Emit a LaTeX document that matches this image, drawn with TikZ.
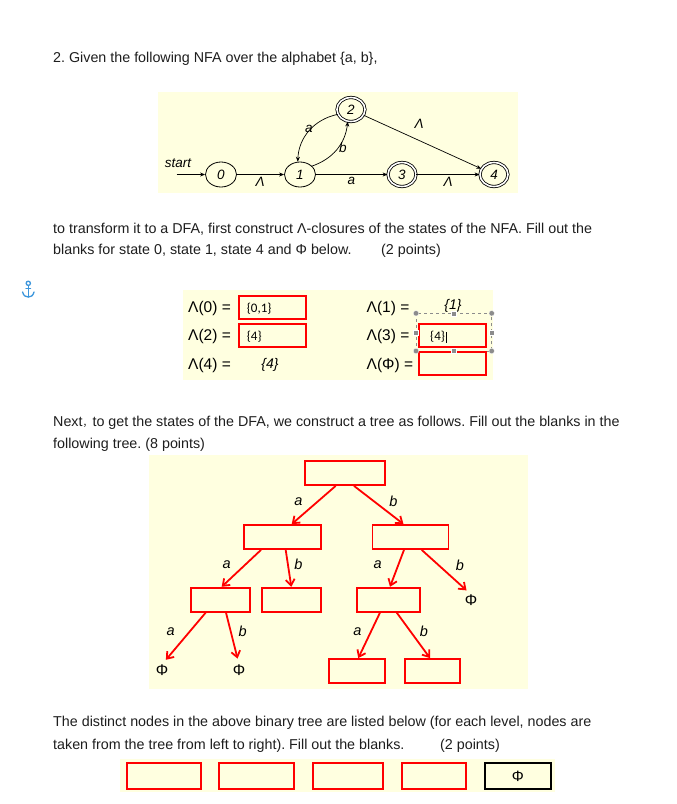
\documentclass[tikz,border=0pt]{standalone}
\usepackage{fontspec}
\setmainfont{Liberation Sans}
\newfontfamily\cjkfont{Noto Sans CJK SC}
\newfontfamily\carlfont{Carlito}
\usetikzlibrary{arrows.meta,shapes.geometric}
\definecolor{bgy}{RGB}{255,255,224}
\definecolor{txtc}{RGB}{30,30,30}
\definecolor{redc}{RGB}{255,0,0}
\definecolor{anchc}{RGB}{60,150,220}
\definecolor{hdlc}{RGB}{140,140,140}
\frenchspacing
\begin{document}
\begin{tikzpicture}[x=1pt,y=-1pt,
 body/.style={anchor=base west,inner sep=0,font=\fontsize{14.3}{17}\selectfont,text=txtc},
 st/.style={ellipse,draw,line width=0.8pt,minimum width=31pt,minimum height=25pt,inner sep=0,font=\fontsize{13.5}{15}\selectfont\itshape},
 acc/.style={st,double,double distance=1.6pt,minimum width=28pt,minimum height=24pt},
 lbl/.style={inner sep=0,font=\fontsize{13.5}{15}\selectfont\itshape},
 nfa/.style={-{Stealth[length=5pt,width=4pt]},line width=0.7pt},
 eqn/.style={anchor=west,inner sep=0,font=\fontsize{15.5}{18}\selectfont},
 rbox/.style={draw=redc,line width=1.8pt,inner sep=0},
 tl/.style={inner sep=0,font=\fontsize{14.5}{16}\selectfont\itshape},
 phi/.style={inner sep=0,font=\fontsize{15.5}{17}\selectfont},
 tedge/.style={draw=redc,line width=1.8pt,-{Straight Barb[length=6pt,width=9pt]}},
 hsq/.style={fill=hdlc,draw=white,line width=0.3pt,minimum size=5pt,inner sep=0},
 hci/.style={circle,fill=hdlc,draw=white,line width=0.3pt,minimum size=5.5pt,inner sep=0},
]
\useasboundingbox (0,0) rectangle (677,804);
\fill[white] (0,0) rectangle (677,804);

% ---------- text 1 ----------
\node[body] (t1) at (53,62) {2. Given the following NFA over the alphabet \{a, b\},};

% ---------- NFA ----------
\fill[bgy] (158,92) rectangle (518,193);
\node[st] (n0) at (221,174.5) {0};
\node[st] (n1) at (300,174.5) {1};
\node[acc] (n2) at (351,109.5) {2};
\node[acc] (n3) at (402,174.5) {3};
\node[acc] (n4) at (494,174.5) {4};
\coordinate (s0) at (176.5,174.5);
\node[lbl,anchor=south] (slab) at (178,168) {start};
\draw[-{Stealth[length=5pt,width=4pt]},line width=1.6pt] (s0) -- (n0);
\draw[nfa] (n0) -- (n1);
\draw[nfa] (n1) -- (n3);
\draw[nfa] (n3) -- (n4);
\draw[nfa] (n2) -- (n4);
\draw[nfa] (n2.200) to[bend right=38] (n1.100);
\draw[nfa] (n1.35) to[bend right=32] (n2.255);
\node[lbl] (l01) at (260,182) {Λ};
\node[lbl] (l13) at (351.5,181) {a};
\node[lbl] (l34) at (448,182) {Λ};
\node[lbl] (l24) at (419,124) {Λ};
\node[lbl] (l21) at (309,129) {a};
\node[lbl] (l12) at (343,147.5) {b};

% ---------- text 2 ----------
\node[body] (t2) at (53,233) {to transform it to a DFA, first construct Λ-closures of the states of the NFA. Fill out the};
\node[body] (t3) at (53,254) {blanks for state 0, state 1, state 4 and Φ below.};
\node[body] (t3b) at (381,254) {(2 points)};

% ---------- anchor icon ----------
\begin{scope}[anchc,line width=1.3pt,line cap=round]
\draw (28.3,283.3) circle (2.1);
\draw (28.3,285.6) -- (28.3,297);
\draw (26,288.6) -- (30.6,288.6);
\draw (22.6,292) .. controls (23.5,296) and (26,297) .. (28.3,297) .. controls (30.6,297) and (33.1,296) .. (34,292);
\end{scope}

% ---------- Lambda closures ----------
\fill[bgy] (183,290) rectangle (493,380);
\node[eqn] (e0) at (188,308.5) {Λ(0) =};
\node[eqn] (e2) at (188,336.5) {Λ(2) =};
\node[eqn] (e4) at (188,365) {Λ(4) =};
\node[eqn] (e1) at (366.5,308.5) {Λ(1) =};
\node[eqn] (e3) at (366.5,336.5) {Λ(3) =};
\node[eqn] (ef) at (366.5,365) {Λ(Φ) =};
\node[rbox,minimum width=66.7pt,minimum height=23.3pt] (b0) at (272.7,307.7) {};
\node[rbox,minimum width=66.7pt,minimum height=22.4pt] (b2) at (272.7,335.5) {};
\node[anchor=west,inner sep=0,font=\carlfont\fontsize{13}{15}\selectfont] (v0) at (246.7,309) {\{0,1\}};
\node[anchor=west,inner sep=0,font=\carlfont\fontsize{13}{15}\selectfont] (v2) at (246.7,337) {\{4\}};
\node[inner sep=0,font=\fontsize{14}{16}\selectfont\itshape] (v4) at (270,364.5) {\{4\}};
\node[inner sep=0,font=\fontsize{14}{16}\selectfont\itshape] (v1) at (453,306) {\{1\}};
% selection frame
\draw[hdlc,dashed,line width=0.6pt] (416,313.3) rectangle (491.7,351);
\node[rbox,minimum width=66.7pt,minimum height=22.4pt] (b3) at (452.7,335.5) {};
\node[rbox,minimum width=66.7pt,minimum height=22.7pt] (bf) at (452.7,363.7) {};
\node[anchor=west,inner sep=0,font=\carlfont\fontsize{13}{15}\selectfont] (v3) at (430,337) {\{4\}};
\draw[black,line width=0.6pt] (v3.east) ++(0.8,-5) -- ++(0,10.5);
\node[hci] (h1) at (416,313.3) {};
\node[hsq] (h2) at (453.8,313.3) {};
\node[hci] (h3) at (491.7,313.3) {};
\node[hsq] (h4) at (416,332.2) {};
\node[hsq] (h5) at (491.7,332.2) {};
\node[hci] (h6) at (416,351) {};
\node[hsq] (h7) at (453.8,351) {};
\node[hci] (h8) at (491.7,351) {};

% ---------- text 3 ----------
\node[body] (t4) at (53,426) {Next{\cjkfont\fontsize{10}{12}\selectfont ，}to get the states of the DFA, we construct a tree as follows. Fill out the blanks in the};
\node[body] (t5) at (53,448) {following tree. (8 points)};

% ---------- tree ----------
\fill[bgy] (149,455) rectangle (528,689);
\node[rbox,minimum width=80pt,minimum height=24pt] (root) at (345,473) {};
\node[rbox,minimum width=77pt,minimum height=24pt] (L1) at (282.7,537) {};
\node[rbox,minimum width=76pt,minimum height=24pt] (R1) at (410.5,537) {};
\node[rbox,minimum width=59pt,minimum height=24pt] (A) at (220.3,599.7) {};
\node[rbox,minimum width=59pt,minimum height=24pt] (B) at (291.3,599.7) {};
\node[rbox,minimum width=63pt,minimum height=24pt] (C) at (388.3,599.7) {};
\node[rbox,minimum width=56pt,minimum height=24pt] (D) at (357,671) {};
\node[rbox,minimum width=55pt,minimum height=24pt] (E) at (432.5,671) {};
\node[phi] (pR) at (471,600) {Φ};
\node[phi] (p1) at (162,670) {Φ};
\node[phi] (p2) at (239,670) {Φ};
\draw[tedge] ([xshift=-9.3pt]root.south) -- ([xshift=9pt]L1.north);
\draw[tedge] ([xshift=9pt]root.south) -- ([xshift=-7pt]R1.north);
\draw[tedge] ([xshift=-21.7pt]L1.south) -- ([xshift=1.4pt]A.north);
\draw[tedge] ([xshift=3pt]L1.south) -- (B.north);
\draw[tedge] ([xshift=-6.5pt]R1.south) -- ([xshift=1.7pt]C.north);
\draw[tedge,shorten >=6pt] ([xshift=11.2pt]R1.south) -- (pR.north);
\draw[tedge,shorten >=6pt] ([xshift=-14.6pt]A.south) -- (p1.north);
\draw[tedge,shorten >=6pt] ([xshift=5.7pt]A.south) -- (p2.north);
\draw[tedge] ([xshift=-8.3pt]C.south) -- ([xshift=1.3pt]D.north);
\draw[tedge] ([xshift=8.4pt]C.south) -- ([xshift=-2.5pt]E.north);
\node[tl] (ta1) at (298.3,501.7) {a};
\node[tl] (tb1) at (393.3,501.7) {b};
\node[tl] (ta2) at (226.7,565) {a};
\node[tl] (tb2) at (298.3,564.3) {b};
\node[tl] (ta3) at (377.7,564.3) {a};
\node[tl] (tb3) at (460,565) {b};
\node[tl] (ta4) at (170.7,631.7) {a};
\node[tl] (tb4) at (242.7,631.7) {b};
\node[tl] (ta5) at (357.3,631.7) {a};
\node[tl] (tb5) at (424,631.7) {b};

% ---------- text 4 ----------
\node[body] (t6) at (53,726) {The distinct nodes in the above binary tree are listed below (for each level, nodes are};
\node[body] (t7) at (53,749) {taken from the tree from left to right). Fill out the blanks.};
\node[body] (t7b) at (440,749) {(2 points)};

% ---------- bottom list ----------
\fill[bgy] (120,759) rectangle (555,792.3);
\node[rbox,minimum width=74pt,minimum height=26pt] (d1) at (163.7,776.3) {};
\node[rbox,minimum width=75pt,minimum height=26pt] (d2) at (256.8,776.3) {};
\node[rbox,minimum width=70pt,minimum height=26pt] (d3) at (348.3,776.3) {};
\node[rbox,minimum width=64pt,minimum height=26pt] (d4) at (433.8,776.3) {};
\node[draw=black,line width=2.2pt,inner sep=0,minimum width=65.7pt,minimum height=26pt,font=\fontsize{15}{17}\selectfont] (d5) at (517.8,776.3) {Φ};
\end{tikzpicture}
\end{document}
